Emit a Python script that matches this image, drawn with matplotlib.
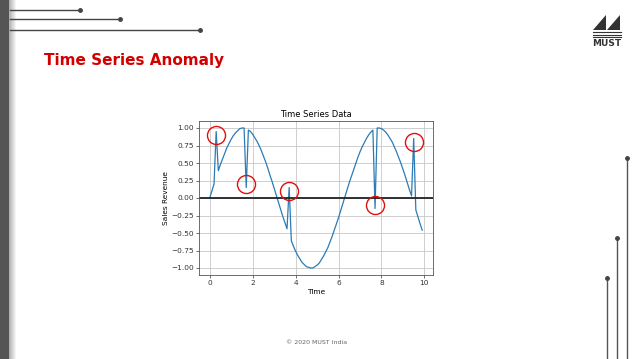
import numpy as np
import matplotlib
matplotlib.use("Agg")
import matplotlib.pyplot as plt
from matplotlib.patches import Rectangle, Polygon
from matplotlib.lines import Line2D

t = np.round(np.arange(100) * 0.1, 1)
revenue = [
    0.00, 0.10, 0.20, 0.95, 0.39, 0.48, 0.56, 0.64, 0.72, 0.78,
    0.84, 0.89, 0.93, 0.96, 0.99, 1.00, 1.00, 0.15, 0.97, 0.95,
    0.91, 0.86, 0.81, 0.75, 0.68, 0.60, 0.52, 0.43, 0.33, 0.24,
    0.14, 0.04, -0.06, -0.16, -0.26, -0.35, -0.44, 0.15, -0.61, -0.69,
    -0.76, -0.82, -0.87, -0.92, -0.95, -0.98, -0.99, -1.00, -1.00, -0.98,
    -0.96, -0.93, -0.88, -0.83, -0.77, -0.71, -0.63, -0.55, -0.46, -0.37,
    -0.28, -0.18, -0.08, 0.02, 0.12, 0.22, 0.31, 0.40, 0.49, 0.58,
    0.66, 0.73, 0.79, 0.85, 0.90, 0.94, 0.97, -0.15, 1.00, 1.00,
    0.99, 0.97, 0.94, 0.90, 0.85, 0.80, 0.73, 0.66, 0.58, 0.50,
    0.41, 0.32, 0.22, 0.12, 0.03, 0.85, -0.17, -0.27, -0.37, -0.46,
]
# circled anomalies
anom_t = [0.3, 1.7, 3.7, 7.7, 9.5]
anom_y = [0.90, 0.20, 0.10, -0.10, 0.80]

W, H = 638, 359
fig = plt.figure(figsize=(W / 100, H / 100), dpi=100)
fig.patch.set_facecolor("white")

def px(x, y):
    return x / W, 1 - y / H

# slide decoration: textured left bar with soft shadow
for i in range(16):
    a = 1.0 if i < 9 else (16 - i) / 7 * 0.45
    fig.add_artist(Rectangle((i / W, 0), 1 / W, 1, transform=fig.transFigure,
                             color="#555555", alpha=a, lw=0))
for (x0, x1, y) in [(10, 80, 10), (10, 120, 19), (10, 200, 30)]:
    fig.add_artist(Line2D([x0 / W, x1 / W], [1 - y / H] * 2, transform=fig.transFigure,
                          color="#444444", lw=1.0))
    fig.add_artist(Line2D([x1 / W], [1 - y / H], transform=fig.transFigure,
                          marker="o", ms=2.5, color="#444444"))
for (x, y0) in [(627, 158), (617, 238), (607, 278)]:
    fig.add_artist(Line2D([x / W] * 2, [1 - y0 / H, 0], transform=fig.transFigure,
                          color="#555555", lw=1.0))
    fig.add_artist(Line2D([x / W], [1 - y0 / H], transform=fig.transFigure,
                          marker="o", ms=2.5, color="#444444"))

# logo
for tri in [[(593, 30), (606, 15), (606, 30)], [(607, 30), (620, 15), (620, 30)]]:
    fig.add_artist(Polygon([px(*p) for p in tri], closed=True, transform=fig.transFigure,
                           color="#333333", lw=0))
for y in [32, 34.5, 37]:
    fig.add_artist(Line2D([px(593, y)[0], px(621, y)[0]], [px(0, y)[1]] * 2,
                          transform=fig.transFigure, color="#333333", lw=0.8))
fig.text(*px(607, 43), "MUST", ha="center", va="center", fontsize=6.5,
         fontweight="bold", color="#333333")

fig.text(*px(44, 60), "Time Series Anomaly", ha="left", va="center", fontsize=11,
         fontweight="bold", color="#d40000", family="DejaVu Sans")
fig.text(*px(317, 343), "© 2020 MUST India", ha="center", va="center", fontsize=4.5,
         color="#666666")

# chart
ax = fig.add_axes([199 / W, 1 - 275 / H, 234 / W, 154 / H])
ax.plot(t, revenue, color="#2b7bb5", lw=0.9)
ax.axhline(0, color="#222222", lw=1.3)
ax.plot(anom_t, anom_y, "o", ms=13, mfc="none", mec="#e01010", mew=1.0)
ax.set_xlim(-0.5, 10.4)
ax.set_ylim(-1.1, 1.1)
ax.set_yticks(np.linspace(-1, 1, 9))
ax.set_xticks([0, 2, 4, 6, 8, 10])
ax.grid(True, color="#c8c8c8", lw=0.6)
ax.set_title("Time Series Data", fontsize=6, pad=3)
ax.set_xlabel("Time", fontsize=5.3, labelpad=2)
ax.set_ylabel("Sales Revenue", fontsize=5.3, labelpad=2)
ax.tick_params(labelsize=5.3, length=2, width=0.5, pad=1.5, colors="#333333")
for s in ax.spines.values():
    s.set_linewidth(0.6)
    s.set_color("#555555")

fig.savefig("out.png", dpi=100)
